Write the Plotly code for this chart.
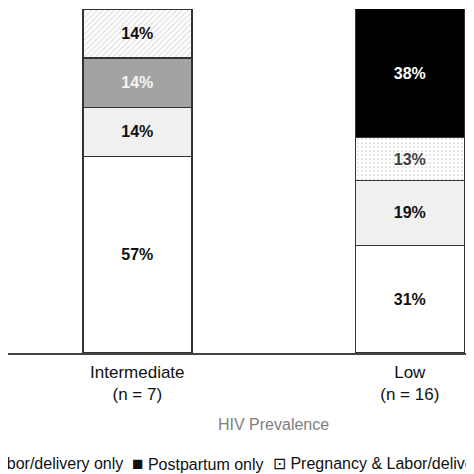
import plotly.graph_objects as go

# categories on the x axis
categories = ["Intermediate<br>(n = 7)", "Low<br>(n = 16)"]

# percent of sites per timing category (stacked bottom -> top)
pregnancy_only = [57.1, 31.3]
all_periods = [14.3, 18.8]
pregnancy_postpartum = [14.3, None]
labor_only = [14.3, None]
pregnancy_labor = [None, 12.5]
postpartum_only = [None, 37.5]

series = [
    ("Pregnancy only", pregnancy_only),
    ("All periods", all_periods),
    ("Pregnancy & Postpartum", pregnancy_postpartum),
    ("Labor/delivery only", labor_only),
    ("Pregnancy & Labor/delivery", pregnancy_labor),
    ("Postpartum only", postpartum_only),
]

# fill, pattern and label colour for each segment style
styles = {
    "Pregnancy only": dict(color="#ffffff", shape="", text="#111111"),
    "All periods": dict(color="#f0f0f0", shape="", text="#111111"),
    "Pregnancy & Postpartum": dict(color="#a3a3a3", shape="", text="#f4f4f4"),
    "Labor/delivery only": dict(color="#ffffff", shape="/", text="#111111"),
    "Pregnancy & Labor/delivery": dict(color="#ffffff", shape=".", text="#404040"),
    "Postpartum only": dict(color="#000000", shape="", text="#ffffff"),
}

FONT = "Liberation Sans, Arial, sans-serif"
W = H = 466  # page body adds an 8px margin

fig = go.Figure()
for name, vals in series:
    st = styles[name]
    fig.add_trace(go.Bar(
        x=categories,
        y=vals,
        name=name,
        width=0.4,
        marker=dict(
            color=st["color"],
            line=dict(color="#333333", width=1.5),
            pattern=dict(shape=st["shape"],
                         fgcolor="#b0b0b0" if st["shape"] == "/" else "#999999",
                         bgcolor=st["color"],
                         size=4, solidity=0.25 if st["shape"] == "/" else 0.15),
        ),
        texttemplate="%{y:.0f}%",
        textposition="inside",
        insidetextanchor="middle",
        textangle=0,
        constraintext="none",
        textfont=dict(family=FONT, size=16, color=st["text"], weight="bold"),
        hoverinfo="skip",
        showlegend=False,
    ))

# legend row (partly cut at both edges, like the source crop)
legend_items = [
    (series[3][0], "", 117, "right"),
    (series[5][0], "<span style='font-size:19px'>■</span> ", 122, "left"),
    (series[4][0], "<span style='font-size:16px'>⊡</span> ", 263, "left"),
]
annotations = []
for label, mark, px, anchor in legend_items:
    annotations.append(dict(
        x=px / W, y=-0.32, xref="paper", yref="paper",
        xanchor=anchor, yanchor="middle", showarrow=False,
        text=mark + label,
        font=dict(family=FONT, size=16, color="#111111"),
    ))

annotations.append(dict(
    x=265.5 / W, y=-0.207, xref="paper", yref="paper",
    xanchor="center", yanchor="middle", showarrow=False,
    text="HIV Prevalence",
    font=dict(family=FONT, size=16, color="#808080"),
))

fig.update_layout(
    barmode="stack",
    width=W,
    height=H,
    margin=dict(l=0, r=0, t=1, b=121),
    plot_bgcolor="white",
    paper_bgcolor="white",
    showlegend=False,
    annotations=annotations,
    xaxis=dict(
        type="category",
        range=[-0.4745, 1.2356],
        showline=True,
        linecolor="#444444",
        linewidth=1.5,
        showgrid=False,
        ticks="",
        ticklabelstandoff=3,
        tickfont=dict(family=FONT, size=17, color="#111111"),
    ),
    yaxis=dict(
        range=[0, 100],
        visible=False,
        showgrid=False,
    ),
)

fig.write_html("out.html")
